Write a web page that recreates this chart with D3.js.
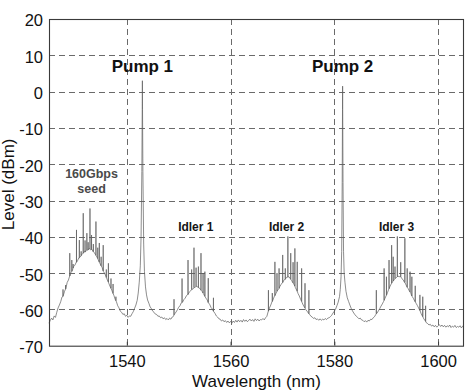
<!DOCTYPE html>
<html><head><meta charset="utf-8">
<script src="https://cdn.jsdelivr.net/npm/d3@7"></script>
<style>body{margin:0;background:#fff}svg{display:block}text{font-family:"Liberation Sans",Arial,Helvetica,sans-serif}</style>
</head><body><svg id="c" width="474" height="390"></svg>
<script>
// ---- data (wavelength nm, level dBm) ----
const xTicks = [1540, 1560, 1580, 1600];
const yTicks = [-70, -60, -50, -40, -30, -20, -10, 0, 10, 20];

const seedTrace = [[1525.0,-63.8],[1525.25,-63.0],[1525.5,-62.4],[1525.75,-62.9],[1526.0,-61.8],[1526.25,-62.2],[1526.5,-60.8],[1526.75,-59.6],[1527.0,-58.8],[1527.25,-57.9],[1527.5,-56.6],[1527.75,-56.2],[1528.0,-55.0],[1528.25,-54.3],[1528.5,-52.6],[1528.75,-51.9],[1529.0,-50.8],[1529.25,-49.8],[1529.5,-49.3],[1529.75,-48.2],[1530.0,-47.8],[1530.25,-47.0],[1530.5,-46.6],[1530.75,-45.8],[1531.0,-45.6],[1531.25,-44.9],[1531.5,-44.7],[1531.75,-44.1],[1532.0,-44.2],[1532.25,-43.6],[1532.5,-43.7],[1532.75,-43.2],[1533.0,-43.6],[1533.25,-43.4],[1533.5,-44.1],[1533.75,-44.4],[1534.0,-45.0],[1534.25,-45.6],[1534.5,-46.4],[1534.75,-47.1],[1535.0,-47.9],[1535.25,-48.5],[1535.5,-49.6],[1535.75,-50.1],[1536.0,-51.0],[1536.25,-51.9],[1536.5,-52.7],[1536.75,-53.6],[1537.0,-54.3],[1537.25,-55.3],[1537.5,-56.1],[1537.75,-57.2],[1538.0,-57.9],[1538.25,-59.0],[1538.5,-59.6],[1538.75,-60.5],[1539.0,-60.8],[1539.25,-61.4],[1539.5,-61.2],[1539.75,-61.9],[1540.0,-61.6],[1540.25,-62.2],[1540.5,-61.8],[1540.75,-61.9],[1541.0,-61.2]];
const pump1Trace = [[1541.25,-60.6],[1541.5,-59.7],[1541.75,-58.8],[1542.0,-57.5],[1542.2,-55.5],[1542.4,-52.5],[1542.6,-48.0],[1542.75,-40.0],[1542.9,-22.0],[1542.97,-5.0],[1543.0,3.0],[1543.03,-5.0],[1543.1,-22.0],[1543.25,-42.0],[1543.4,-49.5],[1543.6,-53.8],[1543.8,-56.0],[1544.0,-57.4],[1544.25,-58.3],[1544.5,-59.3],[1544.75,-59.8]];
const idler1Trace = [[1545.0,-60.5],[1545.25,-60.8],[1545.5,-61.3],[1545.75,-61.4],[1546.0,-61.9],[1546.25,-61.8],[1546.5,-62.3],[1546.75,-62.1],[1547.0,-62.6],[1547.25,-62.3],[1547.5,-62.8],[1547.75,-62.5],[1548.0,-62.9],[1548.25,-62.4],[1548.5,-62.7],[1548.75,-62.1],[1549.0,-61.9],[1549.25,-61.2],[1549.5,-60.7],[1549.75,-60.1],[1550.0,-59.4],[1550.25,-59.0],[1550.5,-58.2],[1550.75,-58.0],[1551.0,-57.3],[1551.25,-56.9],[1551.5,-56.2],[1551.75,-55.9],[1552.0,-55.3],[1552.25,-55.0],[1552.5,-54.5],[1552.75,-54.4],[1553.0,-54.0],[1553.25,-53.8],[1553.5,-53.6],[1553.75,-54.0],[1554.0,-54.1],[1554.25,-54.6],[1554.5,-55.0],[1554.75,-55.6],[1555.0,-56.3],[1555.25,-56.9],[1555.5,-57.4],[1555.75,-58.2],[1556.0,-58.7],[1556.25,-59.5],[1556.5,-59.9],[1556.75,-60.6],[1557.0,-61.1],[1557.25,-61.8],[1557.5,-62.1],[1557.75,-62.6],[1558.0,-62.7],[1558.25,-63.2],[1558.5,-62.9],[1558.75,-63.4],[1559.0,-63.1],[1559.25,-63.6],[1559.5,-63.2],[1559.75,-63.7],[1560.0,-63.3],[1560.25,-63.8],[1560.5,-63.2],[1560.75,-63.6],[1561.0,-63.0],[1561.25,-63.5],[1561.5,-62.9],[1561.75,-63.4]];
const idler2Trace = [[1562.0,-63.0],[1562.25,-63.5],[1562.5,-62.8],[1562.75,-63.3],[1563.0,-62.9],[1563.25,-63.4],[1563.5,-63.0],[1563.75,-62.7],[1564.0,-63.2],[1564.25,-62.8],[1564.5,-63.3],[1564.75,-62.6],[1565.0,-63.1],[1565.25,-62.7],[1565.5,-63.2],[1565.75,-62.8],[1566.0,-62.9],[1566.25,-62.5],[1566.5,-62.9],[1566.75,-62.3],[1567.0,-61.9],[1567.25,-60.6],[1567.5,-59.6],[1567.75,-58.8],[1568.0,-57.8],[1568.25,-57.1],[1568.5,-56.2],[1568.75,-55.6],[1569.0,-54.9],[1569.25,-54.4],[1569.5,-53.7],[1569.75,-53.1],[1570.0,-52.6],[1570.25,-52.0],[1570.5,-51.7],[1570.75,-51.2],[1571.0,-51.1],[1571.25,-51.0],[1571.5,-51.5],[1571.75,-52.0],[1572.0,-52.6],[1572.25,-53.2],[1572.5,-54.0],[1572.75,-54.7],[1573.0,-55.6],[1573.25,-56.3],[1573.5,-57.2],[1573.75,-58.0],[1574.0,-58.8],[1574.25,-59.4],[1574.5,-60.1],[1574.75,-60.5],[1575.0,-61.0],[1575.25,-61.4],[1575.5,-61.9],[1575.75,-62.1],[1576.0,-62.5],[1576.25,-62.3],[1576.5,-62.8],[1576.75,-62.6],[1577.0,-63.0],[1577.25,-62.6],[1577.5,-63.0],[1577.75,-62.7],[1578.0,-62.9],[1578.25,-62.5],[1578.5,-62.8],[1578.75,-62.4]];
const pump2Trace = [[1579.0,-62.3],[1579.25,-62.0],[1579.5,-61.6],[1579.75,-61.0],[1580.0,-60.5],[1580.25,-59.9],[1580.5,-59.0],[1580.75,-58.0],[1581.0,-56.5],[1581.15,-54.5],[1581.3,-51.0],[1581.42,-44.0],[1581.52,-25.0],[1581.58,-5.0],[1581.6,1.5],[1581.62,-5.0],[1581.68,-25.0],[1581.78,-44.0],[1581.9,-50.0],[1582.05,-52.5],[1582.25,-55.0],[1582.5,-56.8],[1582.75,-57.8],[1583.0,-58.8],[1583.25,-59.7],[1583.5,-60.4],[1583.75,-61.0]];
const idler3Trace = [[1584.0,-61.5],[1584.25,-61.9],[1584.5,-62.2],[1584.75,-62.6],[1585.0,-62.4],[1585.25,-62.9],[1585.5,-63.0],[1585.75,-63.4],[1586.0,-63.1],[1586.25,-63.5],[1586.5,-63.0],[1586.75,-63.2],[1587.0,-62.7],[1587.25,-62.8],[1587.5,-62.3],[1587.75,-62.0],[1588.0,-61.4],[1588.25,-61.0],[1588.5,-60.4],[1588.75,-59.8],[1589.0,-59.1],[1589.25,-58.5],[1589.5,-57.8],[1589.75,-57.0],[1590.0,-56.2],[1590.25,-55.4],[1590.5,-54.4],[1590.75,-53.6],[1591.0,-52.9],[1591.25,-52.3],[1591.5,-51.9],[1591.75,-51.4],[1592.0,-51.2],[1592.25,-50.8],[1592.5,-51.0],[1592.75,-50.9],[1593.0,-51.5],[1593.25,-51.8],[1593.5,-52.5],[1593.75,-53.0],[1594.0,-53.8],[1594.25,-54.3],[1594.5,-55.0],[1594.75,-55.6],[1595.0,-56.4],[1595.25,-57.0],[1595.5,-57.7],[1595.75,-58.3],[1596.0,-58.9],[1596.25,-59.6],[1596.5,-60.3],[1596.75,-61.2],[1597.0,-61.9],[1597.25,-62.6],[1597.5,-63.1],[1597.75,-63.7],[1598.0,-63.9],[1598.25,-64.3],[1598.5,-64.1],[1598.75,-64.6],[1599.0,-64.3],[1599.25,-64.8],[1599.5,-64.4],[1599.75,-64.9],[1600.0,-64.5],[1600.25,-64.2],[1600.5,-64.7],[1600.75,-64.3],[1601.0,-64.8],[1601.25,-64.4],[1601.5,-64.9],[1601.75,-64.5],[1602.0,-64.8],[1602.25,-64.3],[1602.5,-65.0],[1602.75,-64.6],[1603.0,-64.9],[1603.25,-64.4],[1603.5,-65.0],[1603.75,-64.7],[1604.0,-64.9],[1604.25,-64.5],[1604.5,-65.1],[1604.75,-64.6],[1605.0,-64.8]];

// spikes: [wavelength, base level, top level]
const seedSpikes = [[1527.7,-56.4,-54.5],[1528.2,-54.4,-53.3],[1529.0,-50.8,-44.5],[1529.4,-49.5,-46.4],[1529.65,-48.6,-47.5],[1530.3,-47.0,-38.1],[1530.85,-45.8,-40.9],[1531.2,-45.2,-44.0],[1531.6,-44.5,-33.5],[1531.95,-44.2,-41.0],[1532.3,-43.6,-39.0],[1532.55,-43.6,-41.5],[1532.9,-43.4,-32.2],[1533.2,-43.5,-39.5],[1533.55,-44.1,-42.0],[1534.05,-45.1,-35.8],[1534.4,-46.0,-43.0],[1534.7,-47.0,-41.7],[1535.05,-48.0,-45.5],[1535.45,-49.4,-42.3],[1536.05,-51.2,-49.0],[1536.45,-52.5,-47.3],[1536.95,-54.2,-51.5],[1537.35,-55.6,-53.0],[1537.9,-57.6,-56.5]];
const idler1Spikes = [[1549.1,-61.5,-57.2],[1550.65,-58.1,-51.5],[1551.8,-55.9,-46.4],[1552.5,-54.5,-49.0],[1552.95,-54.0,-43.0],[1553.35,-53.7,-48.5],[1553.8,-54.0,-48.2],[1554.3,-54.7,-44.5],[1554.7,-55.5,-50.0],[1555.05,-56.4,-49.6],[1555.7,-58.1,-51.4],[1556.7,-60.5,-56.8]];
const idler2Spikes = [[1567.3,-60.5,-54.7],[1568.05,-57.8,-55.5],[1568.55,-56.2,-46.9],[1568.95,-55.0,-50.0],[1569.35,-54.2,-48.7],[1570.05,-52.6,-45.0],[1570.55,-51.7,-48.7],[1571.05,-51.1,-39.9],[1571.6,-51.7,-44.5],[1572.05,-52.7,-47.0],[1572.4,-53.6,-43.2],[1572.85,-55.0,-46.9],[1573.7,-57.8,-48.7],[1574.35,-59.6,-52.8],[1575.1,-61.2,-54.7]];
const idler3Spikes = [[1588.1,-61.2,-54.7],[1589.6,-57.5,-48.7],[1590.05,-56.1,-51.0],[1590.55,-54.3,-46.4],[1591.05,-52.8,-42.3],[1591.35,-52.2,-45.5],[1591.7,-51.5,-48.2],[1592.15,-51.0,-39.9],[1592.8,-51.0,-47.0],[1593.6,-52.6,-40.4],[1594.05,-53.9,-48.7],[1594.6,-55.2,-49.6],[1594.95,-56.3,-51.0],[1595.6,-57.9,-53.5],[1596.5,-60.3,-56.0],[1597.05,-62.0,-56.5],[1597.6,-63.3,-59.0]];

const bigLabels = [["Pump 1", 1543.0, 5.4], ["Pump 2", 1581.6, 5.4]];
const smallLabels = [["Idler 1", 1553.3, -38.5], ["Idler 2", 1570.8, -38.5], ["Idler 3", 1592.0, -38.5]];
const seedLabel = [["160Gbps", 1533.2, -23.8], ["seed", 1533.2, -27.9]];

// ---- drawing ----
const svg = d3.select("#c");
const L = 49, R = 464, T = 19, B = 345.7;
const x = d3.scaleLinear().domain([1525, 1605]).range([L, R]);
const y = d3.scaleLinear().domain([-70, 20]).range([B, T]);

const grid = svg.append("g").attr("stroke", "#6a6a6a").attr("stroke-width", 1).attr("stroke-dasharray", "6,4");
grid.selectAll("line.v").data(xTicks).join("line")
  .attr("x1", d => Math.round(x(d)) + 0.5).attr("x2", d => Math.round(x(d)) + 0.5)
  .attr("y1", T).attr("y2", B);
grid.selectAll("line.h").data(yTicks.filter(v => v > -70 && v < 20)).join("line")
  .attr("y1", d => Math.round(y(d)) + 0.5).attr("y2", d => Math.round(y(d)) + 0.5)
  .attr("x1", L).attr("x2", R);

// merge traces and spikes
let pts = [].concat(seedTrace, pump1Trace, idler1Trace, idler2Trace, pump2Trace, idler3Trace);
[].concat(seedSpikes, idler1Spikes, idler2Spikes, idler3Spikes).forEach(s => {
  pts.push([s[0] - 0.01, s[1]], [s[0], s[2]], [s[0] + 0.01, s[1]]);
});
pts.sort((a, b) => a[0] - b[0]);
const line = d3.line().x(d => x(d[0])).y(d => y(d[1]));
svg.append("path").datum(pts).attr("d", line)
  .attr("fill", "none").attr("stroke", "#5c5c5c").attr("stroke-width", 0.7).attr("stroke-linejoin", "bevel");

// frame
svg.append("rect").attr("x", L + 0.5).attr("y", T + 0.5).attr("width", R - L - 1).attr("height", B - T)
  .attr("fill", "none").attr("stroke", "#3a3a3a").attr("stroke-width", 1.1);

// axes (ticks inward)
const fmt = d => String(d);
const xAxis = d3.axisBottom(x).tickValues(xTicks).tickSize(-4).tickPadding(8).tickFormat(fmt);
const gx = svg.append("g").attr("transform", `translate(0,${B})`).call(xAxis);
const yAxis = d3.axisLeft(y).tickValues(yTicks).tickSize(0).tickPadding(6).tickFormat(fmt);
const gy = svg.append("g").attr("transform", `translate(${L},0)`).call(yAxis);
[gx, gy].forEach(g => {
  g.select(".domain").remove();
  g.selectAll("line").attr("stroke", "#3a3a3a");
  g.selectAll("text").attr("font-size", 16.5).attr("fill", "#111").attr("font-family", '"Liberation Sans",Arial,sans-serif');
});
gx.selectAll("text").attr("dy", null).attr("y", 21.5);
gy.selectAll("text").attr("dy", "0.42em").attr("x", -6);

svg.append("text").attr("x", (L + R) / 2).attr("y", 386.5).attr("text-anchor", "middle")
  .attr("font-size", 17).attr("fill", "#111").text("Wavelength (nm)");
svg.append("text").attr("transform", `translate(14,${(T + B) / 2 + 2}) rotate(-90)`).attr("text-anchor", "middle")
  .attr("font-size", 17).attr("fill", "#111").text("Level (dBm)");

// annotations
svg.selectAll("text.big").data(bigLabels).join("text").attr("class", "big")
  .attr("x", d => x(d[1])).attr("y", d => y(d[2])).attr("text-anchor", "middle")
  .attr("font-size", 17).attr("font-weight", "bold").attr("fill", "#111").text(d => d[0]);
svg.selectAll("text.small").data(smallLabels).join("text").attr("class", "small")
  .attr("x", d => x(d[1])).attr("y", d => y(d[2])).attr("text-anchor", "middle")
  .attr("font-size", 12).attr("font-weight", "bold").attr("fill", "#151515").text(d => d[0]);
svg.selectAll("text.seed").data(seedLabel).join("text").attr("class", "seed")
  .attr("x", d => x(d[1])).attr("y", d => y(d[2])).attr("text-anchor", "middle")
  .attr("font-size", 12.5).attr("font-weight", "bold").attr("fill", "#4a4a4a").text(d => d[0]);
</script></body></html>
